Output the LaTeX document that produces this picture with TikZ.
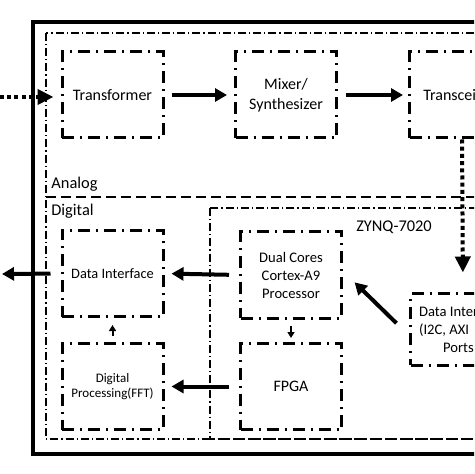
\documentclass[tikz,border=0pt]{standalone}
\usepackage{fontspec}
\setmainfont{Carlito}
\usepackage{tikz}
\usetikzlibrary{positioning,arrows.meta}

\tikzset{
  blk/.style={draw, line width=1.5pt, dash pattern=on 6pt off 3pt on 1pt off 3pt,
    minimum width=50.5pt, minimum height=43pt, align=center, inner sep=1pt,
    font=\fontsize{8}{10}\selectfont},
  region/.style={line width=0.6pt, dash pattern=on 4pt off 1.5pt on 0.6pt off 1.5pt},
  arr/.style={line width=2pt, -{Triangle[length=6pt,width=6.5pt]}},
  dotarr/.style={line width=2pt, dash pattern=on 2pt off 1.6pt, -{Triangle[length=8pt,width=7.5pt]}},
  smallarr/.style={line width=1pt, -{Triangle[length=3pt,width=3.5pt]}},
  lbl/.style={font=\fontsize{8.2}{10}\selectfont, inner sep=0pt}
}

\begin{document}
\begin{tikzpicture}[x=0.5pt,y=-0.5pt]
\useasboundingbox (0,0) rectangle (474,474);
\clip (0,0) rectangle (474,474);
% frames
\draw [line width=2.2pt] (33,22) rectangle (500,454);
\draw [region] (46,33) rectangle (500,439);
\draw [line width=0.7pt, dash pattern=on 5pt off 2.5pt] (46,197) -- (500,197);
\draw [region] (210,208) rectangle (500,439);
\node[lbl, anchor=west] (analog) at (51,184) {Analog};
\node[lbl, anchor=west] (digital) at (51,211) {Digital};
\node[lbl] (zynq) at (394,227) {ZYNQ-7020};
% analog blocks
\node[blk] (xfmr) at (112.5,95) {Transformer};
\node[blk] (mixer) at (286,95) {Mixer/\\Synthesizer};
\node[blk] (xcvr) at (460,95) {Transceiver};
% digital blocks
\node[blk, font=\fontsize{7.2}{9}\selectfont] (datain) at (112.5,273.5) {Data Interface};
\node[blk, font=\fontsize{6.5}{7.5}\selectfont] (dsp) at (112.5,386.5) {Digital\\Processing(FFT)};
\node[blk, font=\fontsize{7.3}{9}\selectfont] (cpu) at (291,275) {Dual Cores\\Cortex-A9\\Processor};
\node[blk] (fpga) at (291,386.5) {FPGA};
\node[blk, minimum height=35.5pt, align=left, font=\fontsize{7.3}{9}\selectfont] (axi) at (461,329.5)
  {Data Interface\\(I2C, AXI\\\hspace*{12pt}Ports};
\coordinate (in) at (0,97);
\coordinate (out) at (2,274);
% connectors
\draw [dotarr, shorten >=3.5pt] (in) -- (in -| xfmr.west);
\draw [arr, shorten <=3.5pt, shorten >=3.5pt] (xfmr) -- (mixer);
\draw [arr, shorten <=4pt, shorten >=2.5pt] (mixer) -- (xcvr);
\draw [dotarr, shorten >=10pt] ([xshift=1pt]xcvr.south) -- ([xshift=1pt]axi.north);
\draw [arr, shorten <=5pt, shorten >=3.5pt] (cpu.west) -- (datain.east);
\draw [arr, shorten <=5pt, shorten >=3.5pt] (fpga.west) -- (dsp.east);
\draw [arr, shorten <=5pt] (datain.west) -- (out);
\draw [smallarr, shorten <=3pt, shorten >=3.5pt] (dsp.north) -- (datain.south);
\draw [smallarr, shorten <=3pt, shorten >=2pt] (cpu.south) -- (fpga.north);
\draw [arr, shorten <=8.8pt, shorten >=8.1pt] ([yshift=-3pt]axi.west) -- ([yshift=2pt]cpu.east);
\end{tikzpicture}
\end{document}
